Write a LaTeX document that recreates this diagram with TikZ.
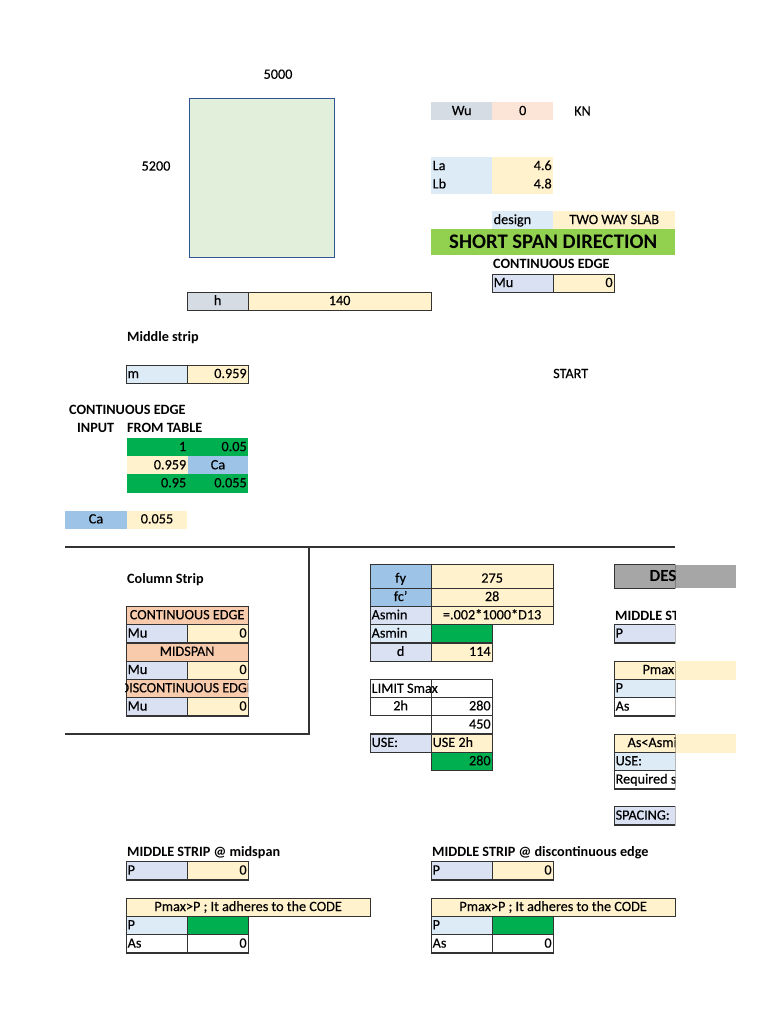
\documentclass[tikz,border=0pt]{standalone}
\usepackage{fontspec}
\setmainfont{Carlito}[UprightFeatures={FakeBold=0.3}]
\definecolor{linecol}{HTML}{333333}
\definecolor{slabcol}{HTML}{E2EFDA}
\definecolor{slabedge}{HTML}{2F5597}
\definecolor{skycol}{HTML}{DDEBF7}
\definecolor{lavcol}{HTML}{D9E1F2}
\definecolor{greycol}{HTML}{D6DCE4}
\definecolor{creamcol}{HTML}{FFF2CC}
\definecolor{rosecol}{HTML}{FCE4D6}
\definecolor{peachcol}{HTML}{F8CBAD}
\definecolor{grasscol}{HTML}{00B050}
\definecolor{limecol}{HTML}{92D050}
\definecolor{steelcol}{HTML}{9DC3E6}
\definecolor{midgrey}{HTML}{A6A6A6}
\tikzset{
  cell/.style={anchor=north west,inner xsep=1.5pt,inner ysep=0pt,minimum height=18.3pt,
    text height=10.2pt,text depth=2.7pt,font=\fontsize{14.2}{16}\selectfont},
  box/.style={draw=linecol,line width=1.25pt,xshift=-0.5pt,yshift=0.5pt},
  tall/.style={minimum height=23.3pt,text height=15pt,text depth=2.7pt},
  sky/.style={fill=skycol},
  lav/.style={fill=lavcol},
  grey/.style={fill=greycol},
  cream/.style={fill=creamcol},
  rose/.style={fill=rosecol},
  peach/.style={fill=peachcol},
  grass/.style={fill=grasscol},
  steel/.style={fill=steelcol},
  plain/.style={anchor=west,inner sep=0pt,font=\fontsize{14.2}{16}\selectfont},
  heading/.style={plain,font=\fontsize{14.2}{16}\selectfont\bfseries},
  frame/.style={draw=linecol,line width=1.1pt}
}
\newcommand{\cell}[5][]{%
  \pgfmathsetlengthmacro\cellw{#4-3}%
  \node (#2) [cell,#1] at (#3) {#5};%
}
\newcommand{\Lt}[1]{\hbox to \cellw{#1\hss}}
\newcommand{\Ct}[1]{\hbox to \cellw{\hss#1\hss}}
\newcommand{\Rt}[1]{\hbox to \cellw{\hss#1}}
\begin{document}
\begin{tikzpicture}[x=1pt,y=-1pt]
\useasboundingbox (0,0) rectangle (768,1024);

% Slab panel
\node (spanB) [plain,anchor=center] at (278,74.2) {5000};
\node (spanA) [plain,anchor=center] at (156,166) {5200};
\draw [fill=slabcol,draw=slabedge,line width=1pt] (189,99) rectangle (334,257);

% Load and spans
\cell[grey]{wuLabel}{431,102}{61}{\Ct{Wu}}
\cell[rose]{wuValue}{492,102}{61}{\Ct{0}}
\node (wuUnit) [plain] at (574,111) {KN};
\cell[sky]{laLabel}{431,157}{61}{\Lt{La}}
\cell[cream]{laValue}{492,157}{61}{\Rt{4.6}}
\cell[sky]{lbLabel}{431,175.3}{61}{\Lt{Lb}}
\cell[cream]{lbValue}{492,175.3}{61}{\Rt{4.8}}
\cell[sky]{designLabel}{492,211}{61}{\Lt{design}}
\cell[cream]{designValue}{553,211}{122}{\Ct{TWO WAY SLAB}}
\cell[fill=limecol,minimum height=25.5pt,text height=16.5pt,text depth=3.3pt,font=\fontsize{20.7}{23}\selectfont\bfseries]{shortSpan}{431,229.3}{244}{\Ct{SHORT SPAN DIRECTION}}
\node (shortEdge) [heading] at (493,264.2) {CONTINUOUS EDGE};
\cell[lav,box]{shortMuLabel}{492,274}{61}{\Lt{Mu}}
\cell[cream,box]{shortMuValue}{553,274}{61}{\Rt{0}}

% Thickness
\cell[grey,box]{hLabel}{187,292}{61}{\Ct{h}}
\cell[cream,box]{hValue}{248,292}{183}{\Ct{140}}

% Middle strip
\node (middleTitle) [heading] at (127,337.5) {Middle strip};
\cell[sky,box]{mLabel}{126,365}{61}{\Lt{m}}
\cell[cream,box]{mValue}{187,365}{61}{\Rt{0.959}}
\node (startText) [plain] at (553,373.5) {START};
\node (edgeText) [heading] at (69,409.5) {CONTINUOUS EDGE};
\node (inputText) [heading] at (77,428) {INPUT};
\node (tableText) [heading] at (127,428) {FROM TABLE};
\cell[grass]{tabA}{127,438}{60.5}{\Rt{1}}
\cell[grass]{tabB}{187.5,438}{60.5}{\Rt{0.05}}
\cell[cream]{tabC}{127,456.2}{60.5}{\Rt{0.959}}
\cell[steel]{tabD}{187.5,456.2}{60.5}{\Ct{Ca}}
\cell[grass]{tabE}{127,474.2}{60.5}{\Rt{0.95}}
\cell[grass]{tabF}{187.5,474.2}{60.5}{\Rt{0.055}}
\cell[steel]{caLabel}{65,510.3}{61.5}{\Ct{Ca}}
\cell[cream]{caValue}{126.5,510.3}{60.5}{\Ct{0.055}}

% Frame of column strip
\coordinate (frameA) at (65,547);
\coordinate (frameB) at (675,547);
\coordinate (frameC) at (309,547);
\coordinate (frameD) at (309,734);
\coordinate (frameE) at (65,734);
\draw [frame] (frameA) -- (frameB);
\draw [frame] (frameC) -- (frameD) -- (frameE);

% Column strip
\node (columnTitle) [heading] at (127,579.5) {Column Strip};
\cell[peach,box]{colHeadA}{126,606.2}{122}{\Ct{CONTINUOUS EDGE}}
\cell[lav,box]{colMuA}{126,624.5}{61}{\Lt{Mu}}
\cell[cream,box]{colValA}{187,624.5}{61}{\Rt{0}}
\cell[peach,box]{colHeadB}{126,642.8}{122}{\Ct{MIDSPAN}}
\cell[lav,box]{colMuB}{126,661}{61}{\Lt{Mu}}
\cell[cream,box]{colValB}{187,661}{61}{\Rt{0}}
\begin{scope}
  \clip (125,678.5) rectangle (248.2,697.5);
  \cell[peach,box]{colHeadC}{126,679.3}{122}{\Ct{DISCONTINUOUS EDGE}}
\end{scope}
\cell[lav,box]{colMuC}{126,697.5}{61}{\Lt{Mu}}
\cell[cream,box]{colValC}{187,697.5}{61}{\Rt{0}}

% Materials
\cell[steel,box,tall]{fyLabel}{370,564.7}{61}{\Ct{fy}}
\cell[cream,box,tall]{fyValue}{431,564.7}{122}{\Ct{275}}
\cell[steel,box]{fcLabel}{370,588}{61}{\Ct{fc'}}
\cell[cream,box]{fcValue}{431,588}{122}{\Ct{28}}
\cell[lav,box]{asLabel}{370,606.3}{61}{\Lt{Asmin}}
\cell[cream,box]{asValue}{431,606.3}{122}{\Ct{=.002*1000*D13}}
\cell[sky,box]{asminLabel}{370,624.6}{61}{\Lt{Asmin}}
\cell[grass,box]{asminValue}{431,624.6}{61}{\Lt{}}
\cell[lav,box]{dLabel}{370,642.9}{61}{\Ct{d}}
\cell[cream,box]{dValue}{431,642.9}{61}{\Rt{114}}

% Limit of spacing
\cell[box]{limitValue}{431,679}{61}{\Lt{}}
\cell[box]{limitLabel}{370,679}{61}{\Lt{}}
\cell[box]{twoLabel}{370,697.3}{61}{\Ct{2h}}
\cell[box]{twoValue}{431,697.3}{61}{\Rt{280}}
\cell[box]{maxValue}{431,715.6}{61}{\Rt{450}}
\cell[lav,box]{useLabel}{370,733.9}{61}{\Lt{USE:}}
\cell[cream,box]{useValue}{431,733.9}{61}{\Lt{USE 2h}}
\cell[grass,box]{useSpace}{431,752.2}{61}{\Rt{280}}
\node (limitName) [plain] at (371.5,688.3) {LIMIT Smax};

% Cut off column on the right
\cell[fill=midgrey,minimum height=23.3pt]{desTail}{675,564.7}{61}{\Lt{}}
\cell[cream]{pmaxTail}{675,661}{61}{\Lt{}}
\cell[cream]{asTail}{675,734}{61}{\Lt{}}
\begin{scope}
  \clip (600,550) rectangle (675.3,840);
  \cell[fill=midgrey,box,minimum height=23.3pt,text height=13pt,text depth=3.3pt,font=\fontsize{17}{19}\selectfont\bfseries]{desHead}{614,564.7}{61}{\Lt{\hspace{34pt}DESIGN}}
  \node (midEdge) [heading] at (615,615.5) {MIDDLE STRIP};
  \cell[lav,box]{midP}{614,624.6}{61}{\Lt{P}}
  \cell[cream,box]{pmaxHead}{614,661}{61}{\Lt{\hspace{27pt}Pmax>P}}
  \cell[sky,box]{pmaxP}{614,679.3}{61}{\Lt{P}}
  \cell[box]{pmaxAs}{614,697.6}{61}{\Lt{As}}
  \cell[cream,box]{asHead}{614,734}{61}{\Lt{\hspace{12pt}As<Asmin}}
  \cell[sky,box]{useP}{614,752.3}{61}{\Lt{USE:}}
  \cell[box]{reqS}{614,770.6}{61}{\Lt{Required spacing}}
  \cell[lav,box]{spacing}{614,806.6}{61}{\Lt{SPACING:}}
\end{scope}

% Middle strip at midspan
\node (midspanTitle) [heading] at (127,852.5) {MIDDLE STRIP @ midspan};
\cell[lav,box]{msP}{126,861.5}{61}{\Lt{P}}
\cell[cream,box]{msPv}{187,861.5}{61}{\Rt{0}}
\cell[cream,box]{msHead}{126,898}{244}{\Ct{Pmax>P ; It adheres to the CODE}}
\cell[sky,box]{msQ}{126,916.3}{61}{\Lt{P}}
\cell[grass,box]{msQv}{187,916.3}{61}{\Lt{}}
\cell[box]{msAs}{126,934.6}{61}{\Lt{As}}
\cell[box]{msAsv}{187,934.6}{61}{\Rt{0}}

% Middle strip at discontinuous edge
\node (discTitle) [heading] at (432,852.5) {MIDDLE STRIP @ discontinuous edge};
\cell[lav,box]{dsP}{431,861.5}{61}{\Lt{P}}
\cell[cream,box]{dsPv}{492,861.5}{61}{\Rt{0}}
\cell[cream,box]{dsHead}{431,898}{244}{\Ct{Pmax>P ; It adheres to the CODE}}
\cell[sky,box]{dsQ}{431,916.3}{61}{\Lt{P}}
\cell[grass,box]{dsQv}{492,916.3}{61}{\Lt{}}
\cell[box]{dsAs}{431,934.6}{61}{\Lt{As}}
\cell[box]{dsAsv}{492,934.6}{61}{\Rt{0}}
\end{tikzpicture}
\end{document}
